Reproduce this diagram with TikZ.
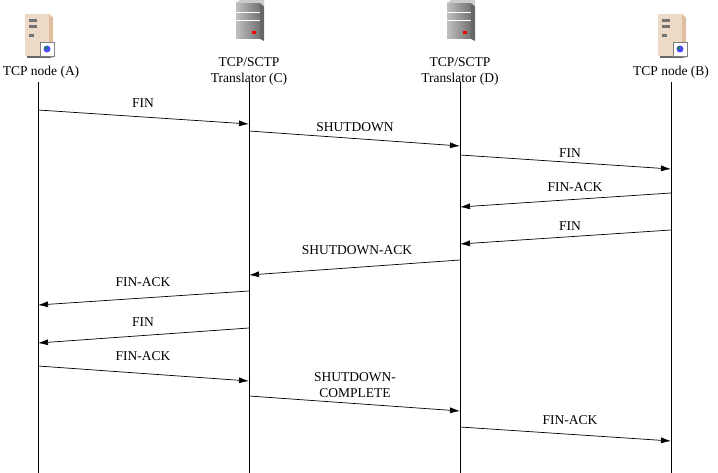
\documentclass[tikz,border=0pt]{standalone}
\usepackage{fontspec}
\setmainfont{Liberation Serif}
\usetikzlibrary{arrows.meta}
\begin{document}
\begin{tikzpicture}[x=1pt,y=-1pt,
  lbl/.style={font=\fontsize{13.5}{16}\selectfont,align=center,inner sep=1pt},
  msg/.style={-{Latex[length=10pt,width=6pt]},line width=0.7pt},
  life/.style={line width=0.7pt},
  pc/.pic={
    \fill[black!60] (-11,-20) rectangle (13,22);
    \fill[brown!30!white] (-13,-22) rectangle (11,20);
    \fill[brown!50!white] (11,-22) -- (15,-18) -- (15,22) -- (13,22) -- (11,20) -- cycle;
    \fill[black!55] (-9,-17) rectangle (-1,-14);
    \fill[black!55] (-9,-11) rectangle (-1,-8);
    \fill[black!55] (-9,-2) rectangle (-4,1);
    \fill[white,draw=black!50] (2,6) rectangle (16,20);
    \fill[blue!70] (9,13) circle (3.5);
    \fill[green!60!black] (8,12) circle (1.5);},
  srv/.pic={
    \shade[left color=black!25,right color=black!55] (-13,-18) rectangle (11,18);
    \fill[black!60] (11,-18) -- (15,-15) -- (15,20) -- (11,18) -- cycle;
    \fill[black!20] (-13,-18) -- (-9,-21) -- (15,-21) -- (15,-15) -- (11,-18) -- cycle;
    \draw[white,line width=0.8pt] (-13,-9) -- (11,-9) (-13,-1) -- (11,-1);
    \fill[red] (3,10) rectangle (7,13);}]
\useasboundingbox (0,0) rectangle (718,473);
\foreach \n/\x in {A/38,C/249,D/460,B/671}{
  \coordinate (t\n) at (\x,82);
  \coordinate (b\n) at (\x,473);
  \draw[life] (t\n) -- (b\n);}
\pic at (38,36) {pc};
\pic at (671,36) {pc};
\pic at (249,21) {srv};
\pic at (460,21) {srv};
\node[lbl,inner sep=0pt] (nA) at (41,72) {TCP node (A)};
\node[lbl] (nB) at (671,72) {TCP node (B)};
\node[lbl] (nC) at (249,71) {TCP/SCTP\\Translator (C)};
\node[lbl] (nD) at (460,71) {TCP/SCTP\\Translator (D)};
\newcommand\mymsg[8]{%
  \coordinate (s#6) at (#1,#2); \coordinate (e#6) at (#3,#4);
  \draw[msg] (s#6) -- (e#6);
  \node[lbl] (l#6) at (#7,#8) {#5};}
\mymsg{38}{110}{249}{124}{FIN}{1}{143}{103}
\mymsg{249}{131}{460}{146}{SHUTDOWN}{2}{355}{127}
\mymsg{460}{155}{671}{169}{FIN}{3}{570}{153}
\mymsg{671}{193}{460}{207}{FIN-ACK}{4}{575}{187}
\mymsg{671}{230}{460}{244}{FIN}{5}{570}{226}
\mymsg{460}{260}{249}{275}{SHUTDOWN-ACK}{6}{357}{250}
\mymsg{249}{291}{38}{305}{FIN-ACK}{7}{143}{282}
\mymsg{249}{328}{38}{343}{FIN}{8}{143}{322}
\mymsg{38}{366}{249}{381}{FIN-ACK}{9}{143}{356}
\mymsg{249}{396}{460}{411}{SHUTDOWN-\\COMPLETE}{10}{355}{385}
\mymsg{460}{427}{671}{441}{FIN-ACK}{11}{570}{420}
\end{tikzpicture}
\end{document}
